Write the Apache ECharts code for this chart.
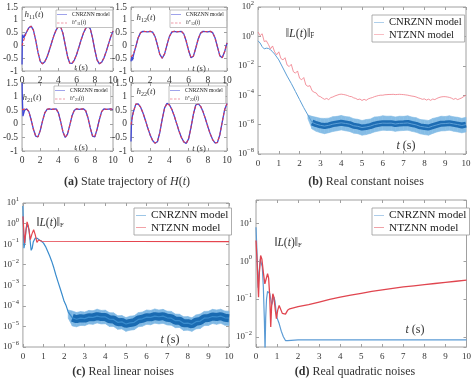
<!DOCTYPE html>
<html><head><meta charset="utf-8">
<script src="https://cdn.jsdelivr.net/npm/echarts@6/dist/echarts.min.js"></script>
<style>html,body{margin:0;padding:0;background:#fff}#c{width:474px;height:381px}</style>
</head><body><div id="c"></div>
<script>
// ================= DATA =================
// (a) state trajectories, sample times (s)
const tA = [0,0.25,0.5,0.75,1,1.25,1.5,1.75,2,2.25,2.5,2.75,3,3.25,3.5,3.75,4,4.25,4.5,4.75,5,5.25,5.5,5.75,6,6.25,6.5,6.75,7,7.25,7.5,7.75,8,8.25,8.5,8.75,9,9.25,9.5,9.75,10];
const h11Ref = [-0.01,0.275,0.524,0.691,0.75,0.598,0.205,-0.266,-0.622,-0.718,-0.636,-0.45,-0.189,0.104,0.383,0.603,0.729,0.725,0.463,0.015,-0.433,-0.695,-0.70,-0.573,-0.353,-0.073,0.219,0.481,0.666,0.747,0.652,0.296,-0.175,-0.568,-0.72,-0.661,-0.494,-0.245,0.044,0.331,0.565];
const h12Ref = [-0.45,-0.35,-0.05,0.3,0.5,0.55,0.54,0.53,0.55,0.52,0.35,0.02,-0.35,-0.5,-0.33,0.02,0.35,0.52,0.55,0.53,0.54,0.55,0.45,0.17,-0.2,-0.48,-0.42,-0.1,0.25,0.48,0.55,0.54,0.53,0.55,0.5,0.3,-0.05,-0.4,-0.48,-0.25,0.1];
const h21Ref = [0.52,0.54,0.55,0.45,0.15,-0.2,-0.45,-0.48,-0.25,0.1,0.4,0.53,0.55,0.53,0.54,0.55,0.4,0.08,-0.3,-0.5,-0.38,-0.05,0.3,0.5,0.55,0.53,0.54,0.55,0.48,0.22,-0.15,-0.45,-0.48,-0.2,0.15,0.45,0.55,0.53,0.54,0.55,0.52];
const h22Ref = [-0.03,0.44,0.722,0.73,0.61,0.399,0.13,-0.157,-0.417,-0.612,-0.711,-0.66,-0.323,0.165,0.585,0.75,0.694,0.535,0.296,0.015,-0.266,-0.505,-0.664,-0.72,-0.555,-0.135,0.353,0.69,0.741,0.642,0.447,0.187,-0.1,-0.369,-0.58,-0.7,-0.69,-0.41,0.065,0.516,0.743];
// CNRZNN transients [t, value] before they join the reference
const h11Cnr = [[0,-0.75],[0.03,0.1],[0.06,0.42],[0.12,0.36],[0.2,0.3],[0.3,0.4],[0.4,0.47],[0.5,0.524]];
const h12Cnr = [[0,-0.62],[0.08,-0.45],[0.15,-0.58],[0.25,-0.4],[0.35,-0.25],[0.5,-0.05]];
const h21Cnr = [[0,1.5],[0.04,0.9],[0.1,0.28],[0.18,0.3],[0.28,0.5],[0.4,0.56],[0.5,0.55]];
const h22Cnr = [[0,-0.65],[0.04,-0.1],[0.1,0.2],[0.2,0.38],[0.25,0.44]];

// (b) constant noises, values are log10(||L(t)||F)
const tB0 = [0,0.1,0.2,0.3,0.4,0.5,0.6,0.7,0.8,0.9,1.0,1.2,1.4,1.6,1.8,2.0,2.2,2.4];
const bCnrLine = [-0.3,-0.45,-0.7,-0.85,-0.8,-0.82,-0.9,-1.05,-1.2,-1.4,-1.6,-2.15,-2.7,-3.2,-3.75,-4.3,-4.85,-5.35];
const tBBand = [2.4,2.6,2.8,3.0,3.2,3.4,3.6,3.8,4.0,4.2,4.4,4.6,4.8,5.0,5.2,5.4,5.6,5.8,6.0,6.2,6.4,6.6,6.8,7.0,7.2,7.4,7.6,7.8,8.0,8.2,8.4,8.6,8.8,9.0,9.2,9.4,9.6,9.8,10.0];
const bBandHi = [-5.35,-5.44,-5.5,-5.57,-5.58,-5.56,-5.46,-5.44,-5.38,-5.45,-5.48,-5.6,-5.64,-5.72,-5.66,-5.62,-5.48,-5.46,-5.4,-5.43,-5.42,-5.48,-5.43,-5.44,-5.4,-5.49,-5.53,-5.65,-5.68,-5.72,-5.58,-5.52,-5.43,-5.45,-5.4,-5.47,-5.5,-5.57,-5.5];
const bBandLo = [-5.6,-6.3,-6.46,-6.55,-6.62,-6.55,-6.47,-6.42,-6.36,-6.42,-6.47,-6.58,-6.62,-6.72,-6.68,-6.6,-6.5,-6.44,-6.38,-6.4,-6.4,-6.46,-6.42,-6.4,-6.38,-6.46,-6.52,-6.63,-6.68,-6.72,-6.6,-6.5,-6.43,-6.42,-6.38,-6.45,-6.5,-6.56,-6.5];
const bBandMid = [-5.45,-5.85,-5.97,-6.05,-6.1,-6.05,-5.97,-5.92,-5.88,-5.92,-5.97,-6.08,-6.12,-6.2,-6.16,-6.1,-6.0,-5.94,-5.9,-5.91,-5.9,-5.96,-5.92,-5.91,-5.89,-5.96,-6.02,-6.12,-6.16,-6.2,-6.1,-6.02,-5.94,-5.93,-5.9,-5.95,-6.0,-6.06,-6.0];
const tB = [0,0.1,0.2,0.3,0.4,0.5,0.6,0.7,0.8,0.9,1,1.1,1.2,1.3,1.4,1.5,1.6,1.7,1.8,1.9,2,2.1,2.2,2.3,2.4,2.5,2.6,2.7,2.8,2.9,3,3.1,3.2,3.3,3.4,3.5,3.6,3.7,3.8,3.9,4,4.1,4.2,4.3,4.4,4.5,4.6,4.7,4.8,4.9,5,5.1,5.2,5.3,5.4,5.5,5.6,5.7,5.8,5.9,6,6.1,6.2,6.3,6.4,6.5,6.6,6.7,6.8,6.9,7,7.1,7.2,7.3,7.4,7.5,7.6,7.7,7.8,7.9,8,8.1,8.2,8.3,8.4,8.5,8.6,8.7,8.8,8.9,9,9.1,9.2,9.3,9.4,9.5,9.6,9.7,9.8,9.9,10];
const bNtz = [0.30,0.05,0.18,-0.35,-0.30,-0.55,-0.85,-0.65,-1.05,-1.25,-1.05,-1.5,-1.6,-1.45,-1.95,-2.05,-1.9,-2.4,-2.5,-2.35,-2.85,-2.95,-2.8,-3.3,-3.4,-3.35,-3.7,-3.8,-3.85,-4.05,-4.1,
  -4.2,-4.28,-4.22,-4.3,-4.16,-4.12,-4.05,-4.0,-3.95,-3.93,
  -3.95,-3.98,-4.02,-4.08,-4.1,-4.18,-4.22,-4.3,-4.26,-4.36,
  -4.28,-4.35,-4.25,-4.2,-4.16,-4.1,-4.06,-4.02,-4.0,-4.0,
  -3.97,-3.96,-3.95,-3.95,-3.94,-3.96,-3.95,-3.94,-3.95,-3.96,
  -3.98,-4.0,-4.03,-4.06,-4.08,-4.12,-4.18,-4.22,-4.28,-4.25,
  -4.33,-4.27,-4.35,-4.26,-4.3,-4.22,-4.16,-4.12,-4.1,-4.1,
  -4.12,-4.15,-4.2,-4.28,-4.22,-4.3,-4.24,-4.18,-4.08,-4.0];

// (c) linear noises, log10 values
const tC0 = [0,0.05,0.1,0.15,0.2,0.25,0.3,0.35,0.4,0.45,0.5,0.6,0.7,0.8,0.9,1.0,1.1,1.2,1.3,1.4,1.5,1.6,1.7,1.8,1.9,2.0,2.1,2.2];
const cCnrLine = [0.85,-1.2,-0.9,-0.3,-0.02,0.0,-0.3,-0.85,-1.3,-1.2,-0.9,-0.7,-0.72,-0.8,-0.86,-0.95,-1.12,-1.35,-1.58,-1.84,-2.15,-2.5,-2.82,-3.13,-3.45,-3.78,-4.0,-4.3];
const tCBand = [2.2,2.4,2.6,2.8,3.0,3.2,3.4,3.6,3.8,4.0,4.2,4.4,4.6,4.8,5.0,5.2,5.4,5.6,5.8,6.0,6.2,6.4,6.6,6.8,7.0,7.2,7.4,7.6,7.8,8.0,8.2,8.4,8.6,8.8,9.0,9.2,9.4,9.6,9.8,10.0];
const cBandHi = [-4.2,-4.25,-4.32,-4.28,-4.3,-4.22,-4.24,-4.16,-4.22,-4.21,-4.33,-4.34,-4.48,-4.47,-4.57,-4.5,-4.48,-4.33,-4.3,-4.2,-4.22,-4.15,-4.2,-4.17,-4.26,-4.27,-4.4,-4.41,-4.53,-4.52,-4.58,-4.44,-4.4,-4.27,-4.26,-4.17,-4.2,-4.16,-4.25,-4.26];
const cBandLo = [-4.6,-4.98,-5.02,-4.95,-4.96,-4.88,-4.9,-4.83,-4.88,-4.87,-5.0,-5.0,-5.14,-5.12,-5.24,-5.18,-5.16,-5.02,-4.99,-4.9,-4.92,-4.84,-4.88,-4.85,-4.93,-4.94,-5.06,-5.05,-5.2,-5.18,-5.24,-5.12,-5.1,-4.96,-4.95,-4.86,-4.9,-4.85,-4.94,-4.96];
const cBandMid = [-4.35,-4.58,-4.65,-4.6,-4.62,-4.55,-4.56,-4.5,-4.54,-4.54,-4.65,-4.66,-4.8,-4.78,-4.88,-4.83,-4.8,-4.66,-4.63,-4.55,-4.56,-4.5,-4.53,-4.5,-4.58,-4.6,-4.72,-4.72,-4.85,-4.84,-4.9,-4.77,-4.74,-4.6,-4.59,-4.52,-4.54,-4.5,-4.58,-4.6];
const cNtzT = [0,0.04,0.08,0.14,0.2,0.26,0.36,0.44,0.52,0.6,0.68,0.76,0.84,0.92,1.0,10];
const cNtz = [0.35,-0.3,-0.95,-0.4,0.08,-0.1,-0.78,-0.5,-0.3,-0.55,-0.92,-0.8,-0.76,-0.86,-0.88,-0.88];

// (d) quadratic noises, [t, log10 value]
const dCnr = [[0,0.9],[0.05,0.2],[0.1,-0.7],[0.15,-0.3],[0.2,0.05],[0.25,0.1],[0.3,-0.15],[0.35,-0.7],[0.4,-1.6],[0.43,-2.4],[0.46,-1.5],[0.5,-1.0],[0.55,-0.8],[0.6,-0.77],[0.65,-0.85],[0.7,-1.0],[0.75,-1.15],[0.8,-1.05],[0.85,-0.95],[0.9,-1.05],[0.95,-1.3],[1.0,-1.5],[1.1,-1.65],[1.2,-1.85],[1.3,-2.0],[1.4,-2.1],[1.5,-2.1],[2.0,-2.08],[10,-2.08]];
const dNtz = [[0,0.55],[0.05,0.0],[0.1,-0.7],[0.12,-0.95],[0.16,-0.3],[0.22,0.15],[0.28,0.05],[0.35,-0.3],[0.42,-0.6],[0.47,-0.62],[0.55,-0.33],[0.6,-0.45],[0.65,-0.9],[0.7,-1.74],[0.74,-1.2],[0.8,-0.86],[0.85,-0.95],[0.92,-1.3],[0.97,-1.52],[1.03,-1.3],[1.1,-1.17],[1.17,-1.22],[1.25,-1.38],[1.33,-1.43],[1.4,-1.4],[1.5,-1.3],[1.6,-1.26],[2,-1.2],[2.5,-1.15],[3,-1.08],[3.5,-1.01],[4,-0.95],[4.5,-0.9],[5,-0.85],[5.5,-0.8],[6,-0.76],[6.5,-0.72],[7,-0.68],[7.5,-0.65],[8,-0.62],[8.5,-0.59],[9,-0.56],[9.5,-0.53],[10,-0.5]];

// ================= BUILD =================
const SERIF = '"Liberation Serif","Times New Roman",serif';
const AX = '#a0a0a0';
const TXT = '#333';
const ICON_SOLID = 'path://M0,0H20V1H0Z';
const ICON_DASH = 'path://M0,0H5V1H0Z M8,0H13V1H8Z M16,0H20V1H16Z';
const grids = [], xAxes = [], yAxes = [], series = [], legends = [], graphics = [];
const seriesColor = {};

const supFmt = v => {
  const r = Math.round(v);
  if (Math.abs(v - r) > 1e-6) return '';
  return '{a|10}{b|' + (r < 0 ? '\u2212' : '') + Math.abs(r) + '}';
};
const supRich = {a:{fontSize:9, fontFamily:SERIF, color:TXT}, b:{fontSize:6.5, fontFamily:SERIF, color:TXT, padding:[0,0,7,0]}};

function addPanel(box, xc, yc) {
  const gi = grids.length;
  grids.push({left:box[0], top:box[1], width:box[2], height:box[3], show:true, borderColor:AX, borderWidth:1, backgroundColor:'transparent'});
  const tick = {show:true, inside:true, length:3, lineStyle:{color:AX, width:1}};
  const noLine = {show:false, onZero:false};
  const bx = {type:'value', gridIndex:gi, min:xc.min, max:xc.max, interval:xc.interval,
    axisLine:noLine, splitLine:{show:false}, axisTick:tick};
  const xi = xAxes.length;
  xAxes.push(Object.assign({}, bx, {position:'bottom', axisLabel:{fontFamily:SERIF, fontSize:xc.fs, color:TXT, margin:xc.margin}}));
  xAxes.push(Object.assign({}, bx, {position:'top', axisLabel:{show:false}}));
  const by = {type:'value', gridIndex:gi, min:yc.min, max:yc.max,
    axisLine:noLine, splitLine:{show:false}, axisTick:tick};
  if (yc.interval) by.interval = yc.interval;
  if (yc.splitNumber) by.splitNumber = yc.splitNumber;
  const yi = yAxes.length;
  const lab = yc.log ? {formatter:supFmt, rich:supRich, margin:yc.margin, showMinLabel:true, showMaxLabel:true}
                     : {fontFamily:SERIF, fontSize:yc.fs, color:TXT, margin:yc.margin};
  yAxes.push(Object.assign({}, by, {position:'left', axisLabel:lab}));
  yAxes.push(Object.assign({}, by, {position:'right', axisLabel:{show:false}}));
  return {xi, yi};
}
function line(name, ax, data, color, width, dashed, z) {
  seriesColor[name] = color;
  return {type:'line', name, xAxisIndex:ax.xi, yAxisIndex:ax.yi, data, symbol:'none', showSymbol:false,
    lineStyle:{color, width, type: dashed ? [3,2] : 'solid', cap:'butt'}, itemStyle:{color}, z: z||2, clip:true, silent:true};
}
function band(ax, ts, lo, hi, color, z) {
  const data = [];
  for (let i = 0; i < ts.length - 1; i++) data.push([ts[i], lo[i], hi[i], ts[i+1], lo[i+1], hi[i+1]]);
  return {type:'custom', xAxisIndex:ax.xi, yAxisIndex:ax.yi, data, encode:{x:[0,3], y:[1,2,4,5]}, z: z||2, silent:true,
    renderItem(params, api) {
      const p1 = api.coord([api.value(0), api.value(1)]);
      const p2 = api.coord([api.value(0), api.value(2)]);
      const p3 = api.coord([api.value(3), api.value(5)]);
      const p4 = api.coord([api.value(3), api.value(4)]);
      return {type:'polygon', shape:{points:[p1,p2,p3,p4]}, style:{fill:color, stroke:color, lineWidth:0.6}};
    }};
}
const pairs = (ts, vs) => ts.map((t, i) => [t, vs[i]]);
const joinCnr = (trans, ref) => {
  const lastT = trans[trans.length - 1][0];
  return trans.concat(pairs(tA, ref).filter(p => p[0] > lastT));
};
function txt(x, y, text, rich, align) {
  graphics.push({type:'text', x, y, silent:true, style:{text, rich, align: align || 'center', verticalAlign:'middle', fill:TXT}});
}
const legendNames = {};
const lgItem = (n, icon) => ({name:n, icon, itemStyle:{color:seriesColor[n], borderWidth:0},
  lineStyle:{color:seriesColor[n], width:0, opacity:0}});

// ---------- (a) four sub panels ----------
const aBlue = '#3f47d6', aRed = '#dd3a55';
const aSub = [
  {box:[17,7,96,64], ref:h11Ref, cnr:h11Cnr, k:'11', lab:[34,15], ts:[81,68], lg:[56,10]},
  {box:[131,7,96,64], ref:h12Ref, cnr:h12Cnr, k:'12', lab:[146,18], ts:[199,69], lg:[170,10]},
  {box:[17,83,96,68], ref:h21Ref, cnr:h21Cnr, k:'21', lab:[32,98], ts:[81,148], lg:[54,86]},
  {box:[131,83,96,68], ref:h22Ref, cnr:h22Cnr, k:'22', lab:[146,92], ts:[199,149], lg:[169,86]}
];
const smallRich = {
  i:{fontFamily:SERIF, fontStyle:'italic', fontSize:9, color:TXT},
  n:{fontFamily:SERIF, fontSize:9, color:TXT},
  s:{fontFamily:SERIF, fontSize:6, color:TXT, padding:[4,0,0,0]}
};
aSub.forEach(p => {
  const ax = addPanel(p.box, {min:0, max:10, interval:2, fs:9.5, margin:4}, {min:-1, max:1.5, interval:0.5, fs:9.5, margin:4});
  const nC = 'aC' + p.k, nR = 'aR' + p.k;
  legendNames[nC] = 'CNRZNN model';
  legendNames[nR] = '{i|h}{p|*}{s|' + p.k + '}{n|(}{i|t}{n|)}';
  series.push(line(nC, ax, joinCnr(p.cnr, p.ref), aBlue, 1.3, false, 2));
  series.push(line(nR, ax, pairs(tA, p.ref), aRed, 1.1, true, 3));
  txt(p.lab[0], p.lab[1], '{i|h}{s|' + p.k + '}{n|(}{i|t}{n|)}', smallRich);
  txt(p.ts[0], p.ts[1], '{i|t}{n| (s)}', {i:{fontFamily:SERIF, fontStyle:'italic', fontSize:8.5, color:TXT}, n:{fontFamily:SERIF, fontSize:8.5, color:TXT}});
  legends.push({left:p.lg[0], top:p.lg[1], orient:'vertical', data:[lgItem(nC, ICON_SOLID), lgItem(nR, ICON_DASH)], formatter:n => legendNames[n],
    itemWidth:10, itemHeight:1.2, itemGap:1, padding:[1,3,1,1], borderColor:'#999', borderWidth:0.6, backgroundColor:'#fff',
    selectedMode:false, textStyle:{fontFamily:SERIF, fontSize:5.5, color:'#222', lineHeight:7,
      rich:{i:{fontFamily:SERIF, fontStyle:'italic', fontSize:5.5}, n:{fontFamily:SERIF, fontSize:5.5}, p:{fontSize:4.5, padding:[0,0,3,0]}, s:{fontSize:4, padding:[2,0,0,0]}}}});
});

const bigRich = sz => ({
  i:{fontFamily:SERIF, fontStyle:'italic', fontSize:sz, color:TXT},
  n:{fontFamily:SERIF, fontSize:sz, color:TXT},
  s:{fontFamily:SERIF, fontSize:sz*0.6, color:TXT, padding:[5,0,0,0]}
});
const normL = '{n|\u2016}{i|L}{n|(}{i|t}{n|)\u2016}{s|F}';
const lgBig = (left, top, names, fs) => ({left, top, orient:'vertical', data:names.map(n => lgItem(n, ICON_SOLID)), formatter:n => legendNames[n],
    itemWidth:10, itemHeight:1.2, itemGap:0, padding:[1,3,1,2], borderColor:'#999', borderWidth:0.8, backgroundColor:'#fff',
    selectedMode:false, textStyle:{fontFamily:SERIF, fontSize:fs, color:'#222', lineHeight:12.5}});

// ---------- (b) ----------
{
  const ax = addPanel([258,7,208,147], {min:0, max:10, interval:1, fs:9, margin:5}, {min:-8, max:2, interval:2, log:true, margin:4});
  legendNames.bC = 'CNRZNN model'; legendNames.bN = 'NTZNN model';
  series.push(band(ax, tBBand, bBandLo, bBandHi, '#86bde6', 2));
  series.push(line('bC2', ax, pairs(tBBand, bBandMid).slice(1), '#1e6db4', 6, false, 3));
  series.push(line('bC', ax, pairs(tB0, bCnrLine).concat(pairs(tBBand, bBandMid).slice(1)), '#5d9fd6', 1, false, 3));
  series.push(line('bN', ax, pairs(tB, bNtz), '#f07a86', 0.8, false, 4));
  legends.push(lgBig(372, 15, ['bC','bN'], 10.6));
  txt(300, 34, normL, bigRich(12));
  txt(406, 146, '{i|t}{n| (s)}', bigRich(12));
}
// ---------- (c) ----------
{
  const ax = addPanel([18,203,211,144], {min:0, max:10, interval:1, fs:9, margin:5}, {min:-6, max:1, interval:1, log:true, margin:4});
  legendNames.cC = 'CNRZNN model'; legendNames.cN = 'NTZNN model';
  series.push(band(ax, tCBand, cBandLo, cBandHi, '#7fb8e4', 2));
  series.push(line('cC2', ax, pairs(tCBand, cBandMid).slice(1), '#1a6bb2', 8, false, 3));
  series.push(line('cC', ax, pairs(tC0, cCnrLine).concat(pairs(tCBand, cBandMid).slice(1)), '#3a8ccd', 1.2, false, 3));
  series.push(line('cN', ax, pairs(cNtzT, cNtz), '#e5454f', 1.2, false, 4));
  legends.push(lgBig(134, 208, ['cC','cN'], 11.3));
  txt(50, 223, normL, bigRich(11.5));
  txt(170, 340, '{i|t}{n| (s)}', bigRich(12));
}
// ---------- (d) ----------
{
  const ax = addPanel([256,200,211,147], {min:0, max:10, interval:1, fs:9, margin:5}, {min:-2.27, max:1.62, splitNumber:4, log:true, margin:4});
  legendNames.dC = 'CNRZNN model'; legendNames.dN = 'NTZNN model';
  series.push(line('dC', ax, dCnr, '#5b9bd5', 1.2, false, 3));
  series.push(line('dN', ax, dNtz, '#e0454f', 1.3, false, 4));
  legends.push(lgBig(372, 208, ['dC','dN'], 11.3));
  txt(288, 243, normL, bigRich(11.5));
  txt(415, 330, '{i|t}{n| (s)}', bigRich(12));
}

// ---------- captions ----------
const capRich = {
  b:{fontFamily:SERIF, fontWeight:'bold', fontSize:12, color:'#111'},
  n:{fontFamily:SERIF, fontSize:12, color:'#111'},
  i:{fontFamily:SERIF, fontStyle:'italic', fontSize:12, color:'#111'}
};
txt(127, 182, '{b|(a)}{n| State trajectory of }{i|H}{n|(}{i|t}{n|)}', capRich);
txt(366, 182, '{b|(b)}{n| Real constant noises}', capRich);
txt(123, 372, '{b|(c)}{n| Real linear noises}', capRich);
txt(355, 372, '{b|(d)}{n| Real quadratic noises}', capRich);

const chart = echarts.init(document.getElementById('c'), null, {renderer:'canvas', width:474, height:381});
chart.setOption({
  animation:false,
  backgroundColor:'#fff',
  grid:grids, xAxis:xAxes, yAxis:yAxes, series, legend:legends,
  graphic:{elements:graphics}
});
</script></body></html>
